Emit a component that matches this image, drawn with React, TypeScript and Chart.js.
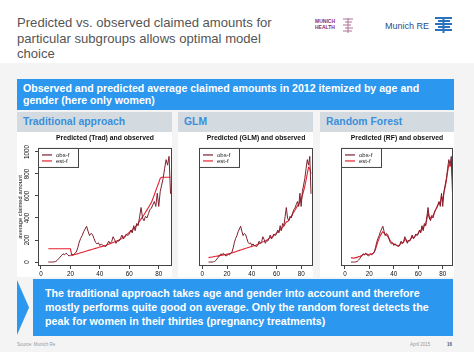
import React, { useEffect, useRef } from "react";
import { Chart, registerables } from "chart.js";

Chart.register(...registerables);

const FONT = "'Liberation Sans', Arial, Helvetica, sans-serif";

// ---------- data ----------
const ages = [
  5, 6, 7, 8, 9, 10, 11, 12, 13, 14,
  15, 16, 17, 18, 19, 20, 21, 22, 23, 24,
  25, 26, 27, 28, 29, 30, 31, 32, 33, 34,
  35, 36, 37, 38, 39, 40, 41, 42, 43, 44,
  45, 46, 47, 48, 49, 50, 51, 52, 53, 54,
  55, 56, 57, 58, 59, 60, 61, 62, 63, 64,
  65, 66, 67, 68, 69, 70, 71, 72, 73, 74,
  75, 76, 77, 78, 79, 80, 81, 82, 83, 84,
  85, 86, 87, 88,
];

const observed = [
  0, 0, 0, 0, 2, 5, 15, 30, 45, 60,
  75, 65, 80, 70, 55, 60, 70, 65, 80, 90,
  130, 180, 215, 240, 275, 300, 325, 280, 240, 260,
  250, 215, 180, 165, 175, 150, 165, 150, 145, 140,
  160, 190, 170, 185, 230, 205, 170, 195, 190, 215,
  245, 210, 225, 255, 240, 255, 290, 265, 330, 285,
  350, 330, 410, 495, 400, 375, 415, 400, 440, 475,
  490, 520, 550, 505, 625, 505, 640, 700, 760, 850,
  930, 880, 960, 620,
];

const tradEstimate = [
  120, 120, 120, 120, 120, 120, 120, 120, 120, 120,
  120, 120, 120, 120, 120, 120, 60, 65, 68, 72,
  76, 80, 84, 88, 92, 96, 100, 104, 108, 112,
  116, 120, 124, 128, 132, 136, 140, 144, 148, 152,
  157, 162, 167, 172, 177, 182, 188, 194, 200, 207,
  215, 225, 235, 247, 258, 270, 280, 292, 305, 318,
  332, 350, 370, 390, 410, 430, 452, 474, 496, 518,
  540, 575, 610, 650, 685, 720, 760, 770, 770, 770,
  770, 770, 770, 770,
];

const glmEstimate = [
  40, 42, 44, 46, 48, 50, 52, 54, 56, 58,
  60, 62, 65, 67, 69, 72, 74, 77, 80, 83,
  87, 90, 94, 98, 102, 106, 110, 113, 117, 121,
  125, 128, 132, 135, 138, 142, 145, 149, 152, 156,
  160, 168, 170, 176, 185, 187, 190, 199, 205, 213,
  222, 226, 236, 246, 252, 262, 274, 280, 295, 302,
  318, 326, 345, 365, 366, 380, 402, 412, 435, 452,
  470, 490, 510, 520, 555, 560, 605, 645, 690, 745,
  805, 860, 850, 800,
];

const rfEstimate = [
  40, 38, 35, 38, 40, 42, 50, 48, 55, 62,
  70, 68, 75, 72, 68, 70, 75, 72, 80, 90,
  115, 150, 185, 215, 240, 260, 275, 262, 250, 245,
  232, 215, 195, 180, 172, 160, 162, 155, 150, 148,
  158, 175, 170, 180, 205, 200, 185, 195, 198, 212,
  232, 220, 230, 250, 248, 262, 285, 275, 315, 300,
  335, 335, 390, 445, 410, 395, 420, 415, 445, 470,
  490, 515, 540, 530, 600, 560, 630, 680, 740, 820,
  880, 870, 900, 760,
];

const xTicks = [0, 20, 40, 60, 80];
const yTicks = [0, 200, 400, 600, 800, 1000];
const seriesLabels = ["obs-f", "est-f"];

const OBS_COLOR = "#7e1f2e";
const EST_COLOR = "#e5212f";
const BLUE = "#2b97ee";

// ---------- plugins ----------
const boxAndLegend = {
  id: "boxAndLegend",
  afterDraw(chart: any) {
    const { ctx, chartArea } = chart;
    const { left, top, right, bottom } = chartArea;
    ctx.save();
    ctx.strokeStyle = "#444";
    ctx.lineWidth = 1;
    ctx.strokeRect(left + 0.5, top + 0.5, right - left - 1, bottom - top - 1);
    const w = 40;
    const h = 19;
    ctx.fillStyle = "#ffffff";
    ctx.fillRect(left + 0.5, top + 0.5, w, h);
    ctx.strokeRect(left + 0.5, top + 0.5, w, h);
    chart.data.datasets.forEach((ds: any, i: number) => {
      const y = top + 7 + i * 6;
      ctx.strokeStyle = ds.borderColor;
      ctx.lineWidth = 1.2;
      ctx.beginPath();
      ctx.moveTo(left + 4, y);
      ctx.lineTo(left + 14, y);
      ctx.stroke();
      ctx.fillStyle = "#222";
      ctx.font = `normal 6px ${FONT}`;
      ctx.textBaseline = "middle";
      ctx.textAlign = "left";
      ctx.fillText(ds.label, left + 18, y);
    });
    ctx.restore();
  },
};

type PanelProps = {
  title: string;
  estimate: number[];
  showY: boolean;
  xMin: number;
  xMax: number;
  width: number;
  height: number;
};

function ChartPanel({ title, estimate, showY, xMin, xMax, width, height }: PanelProps) {
  const ref = useRef<HTMLCanvasElement | null>(null);
  useEffect(() => {
    if (!ref.current) return;
    const chart = new Chart(ref.current, {
      type: "line",
      data: {
        datasets: [
          {
            label: seriesLabels[0],
            data: ages.map((a, i) => ({ x: a, y: observed[i] })),
            borderColor: OBS_COLOR,
            borderWidth: 1,
            pointRadius: 0,
            tension: 0,
          },
          {
            label: seriesLabels[1],
            data: ages.map((a, i) => ({ x: a, y: estimate[i] })),
            borderColor: EST_COLOR,
            borderWidth: 1.1,
            pointRadius: 0,
            tension: 0,
          },
        ],
      },
      options: {
        animation: false,
        responsive: false,
        maintainAspectRatio: false,
        events: [],
        layout: { padding: { top: 0, left: 0, right: 0, bottom: 0 } },
        plugins: {
          legend: { display: false },
          tooltip: { enabled: false },
          title: {
            display: true,
            text: title,
            fullSize: false,
            color: "#111",
            font: { family: FONT, size: 6.8, weight: "bold" },
            padding: { top: 2, bottom: 5.8 },
          },
        },
        scales: {
          x: {
            type: "linear",
            min: xMin,
            max: xMax,
            afterBuildTicks: (s: any) => {
              s.ticks = xTicks.map((v) => ({ value: v }));
            },
            afterFit: (s: any) => {
              s.height = 11;
            },
            grid: {
              display: true,
              drawOnChartArea: false,
              drawTicks: true,
              tickLength: 3,
              color: "#444",
            },
            border: { display: false },
            ticks: {
              color: "#111",
              padding: 1,
              maxRotation: 0,
              minRotation: 0,
              autoSkip: false,
              callback: (v: any) => String(v),
              font: { family: FONT, size: 6.3 },
            },
          },
          y: {
            type: "linear",
            display: showY,
            min: -36,
            max: 1036,
            afterBuildTicks: (s: any) => {
              s.ticks = yTicks.map((v) => ({ value: v }));
            },
            afterFit: (s: any) => {
              s.width = 21;
            },
            grid: {
              display: true,
              drawOnChartArea: false,
              drawTicks: true,
              tickLength: 3,
              color: "#444",
            },
            border: { display: false },
            ticks: {
              color: "#111",
              padding: 1,
              minRotation: 90,
              maxRotation: 90,
              crossAlign: "center",
              autoSkip: false,
              callback: (v: any) => String(v),
              font: { family: FONT, size: 6.3 },
            },
            title: {
              display: true,
              text: "average claimed amount",
              color: "#111",
              padding: 0,
              font: { family: FONT, size: 5.8 },
            },
          },
        },
      } as any,
      plugins: [boxAndLegend],
    });
    return () => chart.destroy();
  }, [title, estimate, showY, xMin, xMax, width, height]);
  return <canvas ref={ref} width={width} height={height} style={{ display: "block", width, height }} />;
}

const abs = (l: number, t: number, w: number, h: number): React.CSSProperties => ({
  position: "absolute",
  left: l,
  top: t,
  width: w,
  height: h,
});

const panels = [
  { head: "Traditional approach", x: 17, w: 155, title: "Predicted (Trad) and observed", est: tradEstimate, showY: true, canvasW: 155, xMin: -2, xMax: 89 },
  { head: "GLM", x: 178, w: 135, title: "Predicted (GLM) and observed", est: glmEstimate, showY: false, canvasW: 135, xMin: -2.7, xMax: 89.6 },
  { head: "Random Forest", x: 320, w: 134, title: "Predicted (RF) and observed", est: rfEstimate, showY: false, canvasW: 133, xMin: -3.2, xMax: 88.4 },
];

export default function App() {
  useEffect(() => {
    document.body.style.margin = "0";
  }, []);
  return (
    <div style={{ ...abs(0, 0, 474, 355), background: "#ffffff", overflow: "hidden", fontFamily: FONT }}>
      {/* slide title */}
      <div style={{ position: "absolute", left: 17, top: 15, fontSize: 13.1, lineHeight: "15.5px", color: "#555", whiteSpace: "nowrap" }}>
        Predicted vs. observed claimed amounts for
        <br />
        particular subgroups allows optimal model
        <br />
        choice
      </div>
      {/* logos */}
      <div style={{ position: "absolute", left: 315, top: 19, fontSize: 5, lineHeight: "5.5px", fontWeight: "bold", color: "#8b2c6e" }}>
        MUNICH
        <br />
        HEALTH
      </div>
      <svg style={{ position: "absolute", left: 340, top: 17 }} width={16} height={17}>
        {[2, 5, 8, 11, 14].map((y, i) => (
          <line key={i} x1={3 + (i % 2) * 2} y1={y} x2={13 - (i % 3)} y2={y} stroke="#b0709a" strokeWidth={1} />
        ))}
        <line x1={8} y1={1} x2={8} y2={16} stroke="#b0709a" strokeWidth={1} />
      </svg>
      <div style={{ position: "absolute", left: 385, top: 21, fontSize: 9, lineHeight: "11px", color: "#1f4e8c", whiteSpace: "nowrap" }}>Munich RE</div>
      <svg style={{ position: "absolute", left: 434, top: 16 }} width={19} height={18}>
        {[2, 5, 8, 11, 14].map((y, i) => (
          <line key={i} x1={1 + (i % 2) * 3} y1={y} x2={18 - (i % 2) * 2} y2={y} stroke="#2a72c0" strokeWidth={2} />
        ))}
        <line x1={9.5} y1={1} x2={9.5} y2={17} stroke="#2a72c0" strokeWidth={2} />
      </svg>

      {/* gray slide body */}
      <div style={{ ...abs(0, 63, 474, 289), background: "#f4f4f4" }} />

      {/* blue header */}
      <div style={{ ...abs(17, 79, 437, 31), background: BLUE, color: "#fff", fontWeight: "bold", fontSize: 10.6, lineHeight: "11.5px", boxSizing: "border-box", padding: "4px 6px", whiteSpace: "nowrap" }}>
        Observed and predicted average claimed amounts in 2012 itemized by age and
        <br />
        gender (here only women)
      </div>

      {panels.map((p, i) => (
        <React.Fragment key={i}>
          <div style={{ ...abs(p.x, 112, p.w, 20), background: "#d3dbe1", color: "#3a8fdc", fontWeight: "bold", fontSize: 10.4, lineHeight: "20px", boxSizing: "border-box", paddingLeft: 6, whiteSpace: "nowrap" }}>
            {p.head}
          </div>
          <div style={{ ...abs(p.x, 132, p.w, 145), background: "#ffffff" }}>
            <ChartPanel title={p.title} estimate={p.est} showY={p.showY} xMin={p.xMin} xMax={p.xMax} width={p.canvasW} height={145} />
          </div>
        </React.Fragment>
      ))}

      {/* chevron */}
      <svg style={{ position: "absolute", left: 17, top: 279 }} width={13} height={57}>
        <polygon points="0,1 12,28.5 0,56" fill={BLUE} />
      </svg>
      {/* bottom message */}
      <div style={{ ...abs(33, 279, 420, 57), background: BLUE, color: "#fff", fontWeight: "bold", fontSize: 10.7, lineHeight: "14.2px", boxSizing: "border-box", padding: "7px 0 0 12px", whiteSpace: "nowrap" }}>
        The traditional approach takes age and gender into account and therefore
        <br />
        mostly performs quite good on average. Only the random forest detects the
        <br />
        peak for women in their thirties (pregnancy treatments)
      </div>

      {/* footer */}
      <div style={{ position: "absolute", left: 17, top: 342, fontSize: 4.5, color: "#999", whiteSpace: "nowrap" }}>Source: Munich Re</div>
      <div style={{ position: "absolute", left: 410, top: 342, fontSize: 4.5, color: "#999", whiteSpace: "nowrap" }}>April 2015</div>
      <div style={{ position: "absolute", left: 447, top: 342, fontSize: 4.5, color: "#555", fontWeight: "bold", whiteSpace: "nowrap" }}>16</div>
    </div>
  );
}
